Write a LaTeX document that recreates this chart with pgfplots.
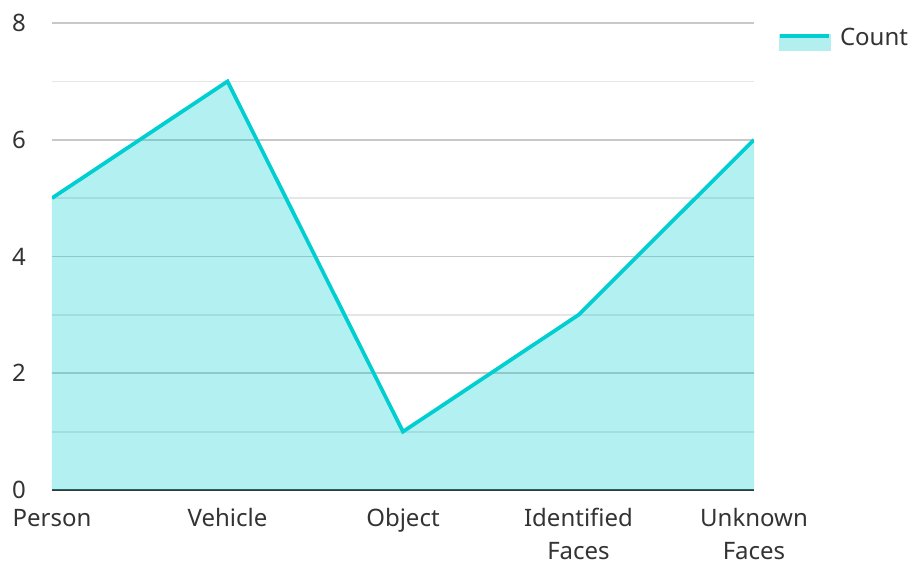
\documentclass[border=0pt]{standalone}
\usepackage{pgfplots}
\pgfplotsset{compat=1.18}
\usepackage{fontspec}
\setmainfont{Noto Sans}
\definecolor{linec}{HTML}{00CED1}
\definecolor{fillc}{HTML}{B2EFEE}
\definecolor{txt}{HTML}{333333}
\definecolor{majg}{HTML}{C8C8C8}
\definecolor{ming}{HTML}{E6E6E6}
\begin{document}
\begin{tikzpicture}
\path[use as bounding box] (-39pt,-54pt) rectangle ++(684pt,421.5pt);
\begin{axis}[
  scale only axis,
  width=526.5pt, height=350.25pt,
  xmin=0, xmax=4, ymin=0, ymax=8,
  xtick={0,1,2,3,4},
  xticklabels={\strut Person,\strut Vehicle,\strut Object,\strut Identified\\Faces,\strut Unknown\\Faces},
  ytick={0,2,4,6,8},
  minor ytick={1,3,5,7},
  ymajorgrids, yminorgrids,
  major grid style={majg, line width=1.3pt},
  minor grid style={ming, line width=1.3pt},
  axis x line*=bottom,
  axis y line*=left,
  y axis line style={draw=none},
  x axis line style={txt, line width=1.6pt, -},
  major tick length=0pt, minor tick length=0pt,
  tick style={draw=none},
  every tick label/.style={font=\fontsize{18}{24.75}\selectfont, text=txt},
  xticklabel style={anchor=north, inner sep=0pt, yshift=-10.2pt, align=center},
  yticklabel style={anchor=east, inner sep=0pt, xshift=-19.5pt},
  /pgf/number format/assume math mode=true,
  legend style={at={(1,1)}, anchor=north west, xshift=18.25pt, yshift=-2pt, draw=none, fill=none,
    font=\fontsize{18}{22}\selectfont, text=txt, inner sep=0pt},
  legend cell align=left,
  legend image code/.code={
    \fill[fillc] (0pt,-8.25pt) rectangle (36.75pt,1.5pt);
    \draw[linec, line width=2.8pt] (0pt,1.5pt) -- (36.75pt,1.5pt);
    \path (41.25pt,0pt);
  },
]
\addplot[draw=none, fill=linec, fill opacity=0.3, forget plot] coordinates {
  (0,5) (1,7) (2,1) (3,3) (4,6)
} \closedcycle;
\addplot[draw=linec, line width=2.8pt] coordinates {
  (0,5) (1,7) (2,1) (3,3) (4,6)
};
\addlegendentry{Count}
\end{axis}
\end{tikzpicture}
\end{document}
